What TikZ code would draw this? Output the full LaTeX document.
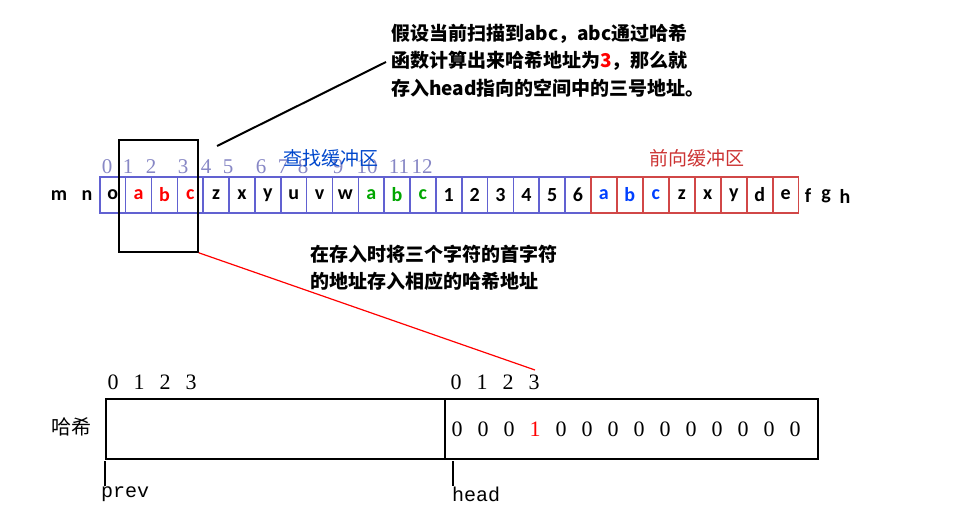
\documentclass[tikz,border=0pt]{standalone}
\usepackage{fontspec}
\setmainfont{Liberation Serif}
\newfontfamily\cjk{Noto Sans CJK SC}
\newfontfamily\calfont{Carlito}
\newfontfamily\monofnt{Liberation Mono}
\begin{document}
\begin{tikzpicture}[x=1pt,y=-1pt,
  cellB/.style={draw=blue!55!gray!80,line width=1.6pt,minimum width=25.85pt,minimum height=36pt,anchor=west,inner sep=0pt,font=\calfont\bfseries\fontsize{20}{20}\selectfont},
  cellR/.style={cellB,draw=red!60!gray!90},
  ch/.style={font=\calfont\bfseries\fontsize{20}{20}\selectfont,inner sep=0pt},
  idx/.style={font=\fontsize{21}{21}\selectfont,text=blue!35!gray!70,inner sep=0pt},
  cn/.style={font=\cjk\bfseries\fontsize{19}{26.5}\selectfont,inner sep=0pt,align=left},
  dg/.style={font=\fontsize{22}{22}\selectfont,inner sep=0pt}]
\useasboundingbox (0,0) rectangle (965,522);
% top text
\node[cn,anchor=west] (t1) at (391,34) {假设当前扫描到abc，abc通过哈希};
\node[cn,anchor=west] (t2) at (391,61) {函数计算出来哈希地址为{\color{red}3}，那么就};
\node[cn,anchor=west] (t3) at (391,88) {存入head指向的空间中的三号地址。};
\coordinate (le) at (386,62);
% cells
\def\cw{25.85}
\foreach [count=\i from 0] \c/\col in {o/black,a/red,b/red,c/red,z/black,x/black,y/black,u/black,v/black,w/black,a/green!65!black,b/green!65!black,c/green!65!black,1/black,2/black,3/black,4/black,5/black,6/black}{
  \node[cellB,text=\col] (b\i) at ({99+\i*\cw},195) {\c};
}
\foreach [count=\i from 0] \c in {a,b,c,z,x,y,d,e}{
  \ifnum\i<3 \node[cellR,text=blue!75!cyan] (r\i) at ({590+\i*26},195) {\c};
  \else \node[cellR] (r\i) at ({590+\i*26},195) {\c};\fi
}
\node[ch] (m) at (59,196) {m};
\node[ch] (n) at (87,196) {n};
\node[ch] (f) at (808,196) {f};
\node[ch] (g) at (826,196) {g};
\node[ch] (h) at (845,196) {h};
% indices
\foreach \t/\x in {0/107,1/128,2/151,3/183,4/206,5/228,6/261,7/283,8/303,9/338,10/367,11/399,12/422}
  \node[idx] (i\t) at (\x,167) {\t};
\node[font=\cjk\fontsize{19}{19}\selectfont,text=blue!65!cyan!80!black,inner sep=0pt] (s1) at (331,158) {查找缓冲区};
\node[font=\cjk\fontsize{19}{19}\selectfont,text=red!60!gray,inner sep=0pt] (s2) at (697,158) {前向缓冲区};
% black selection box
\node[draw,line width=1.6pt,minimum width=79pt,minimum height=112pt,inner sep=0pt] (sel) at (158.5,196) {};
\draw[line width=2pt] (217,146) -- (le);
% middle text
\node[cn,anchor=west] (mt) at (310,268) {在存入时将三个字符的首字符\\的地址存入相应的哈希地址};
% bottom
\node[draw,line width=2pt,minimum width=339pt,minimum height=60pt,inner sep=0pt,anchor=north west] (pb) at (105,398) {};
\node[draw,line width=2pt,minimum width=373pt,minimum height=60pt,inner sep=0pt,anchor=north west] (hb) at (444,398) {};
\coordinate (hb3) at (535,370);
\draw[red,line width=1.2pt] (sel.south east) -- (hb3);
\foreach \k in {0,1,2,3}{
  \node[dg] (pl\k) at ({113+\k*26},382) {\k};
  \node[dg] (hl\k) at ({456+\k*26},382) {\k};
}
\foreach \k in {0,...,13}{
  \ifnum\k=3 \node[dg,text=red] (hd\k) at ({457+\k*26},429) {1};
  \else \node[dg] (hd\k) at ({457+\k*26},429) {0};\fi
}
\node[font=\cjk\fontsize{20}{20}\selectfont,inner sep=0pt] (hx) at (71,427) {哈希};
\node[font=\monofnt\fontsize{20}{20}\selectfont,inner sep=0pt,anchor=west] (pv) at (101,494) {prev};
\node[font=\monofnt\fontsize{20}{20}\selectfont,inner sep=0pt,anchor=west] (hh) at (452,494) {head};
\coordinate (pv0) at (105,461);
\coordinate (hh0) at (453,461);
\draw[line width=1.6pt] (pv0) -- (pv0 |- pv.north);
\draw[line width=1.6pt] (hh0) -- (hh0 |- hh.north);
\end{tikzpicture}
\end{document}
